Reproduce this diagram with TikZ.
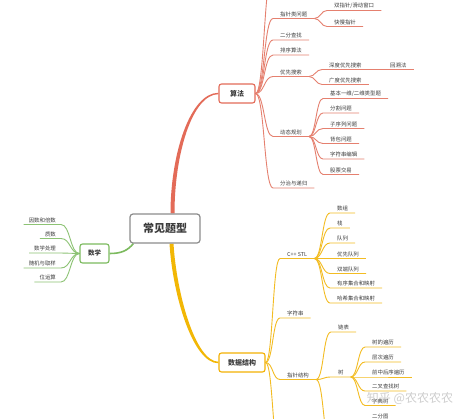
\documentclass[tikz,border=0pt]{standalone}
\usepackage{fontspec}
\usetikzlibrary{backgrounds}
\newfontfamily\cjk{Noto Sans CJK SC}
\definecolor{txt}{HTML}{3C3C3C}
\definecolor{redm}{HTML}{E36B58}
\definecolor{reds}{HTML}{E5806F}
\definecolor{yelm}{HTML}{F2B705}
\definecolor{yels}{HTML}{F3BC22}
\definecolor{grnm}{HTML}{7CBA5E}
\definecolor{grns}{HTML}{8DC374}
\definecolor{cbord}{HTML}{8C8C8C}
\newcommand\conn[4]{\draw[#1] (#2) .. controls +(#3,0) and +(-#3,0) .. (#4.south west) -- (#4.south east);}
\newcommand\connL[4]{\draw[#1] (#2) .. controls +(-#3,0) and +(#3,0) .. (#4.south east) -- (#4.south west);}
\begin{document}
\begin{tikzpicture}[x=1pt,y=-1pt,
 leaf/.style={font=\cjk\fontsize{5.4}{6}\selectfont, text=txt, inner xsep=7pt, inner ysep=1.6pt, anchor=south west},
 leafL/.style={leaf, anchor=south east, inner xsep=5pt},
 topbox/.style={draw, fill=white, rounded corners=2.5pt, line width=1.1pt, font=\cjk\bfseries\fontsize{7}{8}\selectfont, text=txt, minimum height=19pt, inner sep=0pt},
 rline/.style={draw=reds, line width=0.9pt},
 yline/.style={draw=yels, line width=0.9pt},
 gline/.style={draw=grns, line width=0.9pt}]
\useasboundingbox (0,0) rectangle (474,418);
% central
\node[draw=cbord, fill=white, rounded corners=3pt, line width=1.2pt, minimum width=70pt, minimum height=29pt, inner sep=0pt, font=\cjk\bfseries\fontsize{11}{13}\selectfont, text=txt] (c) at (165,228.5) {常见题型};
% algorithm
\node[topbox, draw=redm, minimum width=36pt] (alg) at (237,93.5) {算法};
\coordinate (a0) at (273,-30);
\node[leaf] (a1) at (273,18.5) {指针类问题};
\node[leaf] (a2) at (273,40) {二分查找};
\node[leaf] (a3) at (273,55) {排序算法};
\node[leaf] (a4) at (273,76.5) {优先搜索};
\node[leaf] (a5) at (273,136.5) {动态规划};
\node[leaf] (a6) at (273,188) {分治与递归};
\node[leaf] (a11) at (327,10.5) {双指针/滑动窗口};
\node[leaf] (a12) at (327,26.5) {快慢指针};
\node[leaf] (a41) at (322,69.5) {深度优先搜索};
\node[leaf] (a411) at (383,69.5) {回溯法};
\node[leaf] (a42) at (322,84.5) {广度优先搜索};
\node[leaf] (a51) at (323,98.5) {基本一维/二维类型题};
\node[leaf] (a52) at (323,113) {分割问题};
\node[leaf] (a53) at (323,128.5) {子序列问题};
\node[leaf] (a54) at (323,143.5) {背包问题};
\node[leaf] (a55) at (323,159) {字符串编辑};
\node[leaf] (a56) at (323,174.5) {股票交易};
% data structures
\node[topbox, draw=yelm!90!orange, minimum width=46pt] (ds) at (242,362.5) {数据结构};
\node[leaf] (d1) at (280,258.5) {C++ STL};
\node[leaf] (d2) at (280,318) {字符串};
\node[leaf] (d3) at (280,379.5) {指针结构};
\coordinate (d4) at (280,455);
\node[leaf] (d11) at (330,213) {数组};
\node[leaf] (d12) at (330,228) {栈};
\node[leaf] (d13) at (330,243) {队列};
\node[leaf] (d14) at (330,258.5) {优先队列};
\node[leaf] (d15) at (330,273.5) {双端队列};
\node[leaf] (d16) at (330,288) {有序集合和映射};
\node[leaf] (d17) at (330,303) {哈希集合和映射};
\node[leaf] (d31) at (331,332) {链表};
\node[leaf] (d32) at (331,377) {树};
\coordinate (d33) at (331,445);
\coordinate (d33h) at (350,445);
\node[leaf] (d321) at (365,347) {树的遍历};
\node[leaf] (d322) at (365,362) {层次遍历};
\node[leaf] (d323) at (365,377) {前中后序遍历};
\node[leaf] (d324) at (365,391) {二叉查找树};
\node[leaf] (d325) at (365,405.5) {字典树};
\node[leaf] (d331) at (365,420.5) {二分图};
% math
\node[topbox, draw=grnm, minimum width=29pt, font=\cjk\bfseries\fontsize{6.5}{8}\selectfont] (m) at (94.5,253.5) {数学};
\node[leafL] (m1) at (61,224.5) {因数和倍数};
\node[leafL] (m2) at (61,238.5) {质数};
\node[leafL] (m3) at (61,253) {数学处理};
\node[leafL] (m4) at (61,268) {随机与取样};
\node[leafL] (m5) at (61,282) {位运算};
% watermark
\node[font=\cjk\fontsize{12}{14}\selectfont, text=gray!45, opacity=0.85] (wm) at (410,398) {知乎 @农农农农};
\begin{pgfonlayer}{background}
\fill[white] (0,0) rectangle (474,418);
% main branches
\fill[redm] ([xshift=5.5pt]c.north) .. controls +(0,-60) and +(-28,0) .. ([yshift=0.7pt]alg.west) -- ([yshift=-0.7pt]alg.west) .. controls +(-26,0) and +(0,-60) .. ([xshift=9.5pt]c.north) -- cycle;
\fill[yelm] ([xshift=4.5pt]c.south) .. controls +(3,50) and +(-26,0) .. ([yshift=-0.8pt]ds.west) -- ([yshift=0.8pt]ds.west) .. controls +(-23,0) and +(3,50) .. ([xshift=8.5pt]c.south) -- cycle;
\draw[grnm, line width=1.6pt] (m.east) .. controls +(12,0) and +(-6,7) .. ([xshift=4pt]c.south west);
% algorithm connectors
\draw[rline] (alg.east) .. controls +(9,0) and +(-9,0) .. (a0) -- ++(30,0);
\conn{rline}{alg.east}{9}{a1}
\conn{rline}{alg.east}{9}{a2}
\conn{rline}{alg.east}{9}{a3}
\conn{rline}{alg.east}{9}{a4}
\conn{rline}{alg.east}{9}{a5}
\conn{rline}{alg.east}{9}{a6}
\conn{rline}{a1.south east}{6}{a11}
\conn{rline}{a1.south east}{6}{a12}
\conn{rline}{a4.south east}{6}{a41}
\conn{rline}{a4.south east}{6}{a42}
\draw[rline] (a41.south east) -- (a411.south west) -- (a411.south east);
\conn{rline}{a5.south east}{7}{a51}
\conn{rline}{a5.south east}{7}{a52}
\conn{rline}{a5.south east}{7}{a53}
\conn{rline}{a5.south east}{7}{a54}
\conn{rline}{a5.south east}{7}{a55}
\conn{rline}{a5.south east}{7}{a56}
% data structure connectors
\conn{yline}{ds.east}{7.5}{d1}
\conn{yline}{ds.east}{7.5}{d2}
\conn{yline}{ds.east}{7.5}{d3}
\draw[yline] (ds.east) .. controls +(7.5,0) and +(-7.5,0) .. (d4) -- ++(30,0);
\conn{yline}{d1.south east}{8}{d11}
\conn{yline}{d1.south east}{8}{d12}
\conn{yline}{d1.south east}{8}{d13}
\conn{yline}{d1.south east}{8}{d14}
\conn{yline}{d1.south east}{8}{d15}
\conn{yline}{d1.south east}{8}{d16}
\conn{yline}{d1.south east}{8}{d17}
\conn{yline}{d3.south east}{8}{d31}
\conn{yline}{d3.south east}{8}{d32}
\draw[yline] (d3.south east) .. controls +(8,0) and +(-8,0) .. (d33) -- (d33h);
\conn{yline}{d32.south east}{7}{d321}
\conn{yline}{d32.south east}{7}{d322}
\conn{yline}{d32.south east}{7}{d323}
\conn{yline}{d32.south east}{7}{d324}
\conn{yline}{d32.south east}{7}{d325}
\conn{yline}{d33h}{7}{d331}
% math connectors
\connL{gline}{m.west}{9.5}{m1}
\connL{gline}{m.west}{9.5}{m2}
\connL{gline}{m.west}{9.5}{m3}
\connL{gline}{m.west}{9.5}{m4}
\connL{gline}{m.west}{9.5}{m5}
\end{pgfonlayer}
\end{tikzpicture}
\end{document}
